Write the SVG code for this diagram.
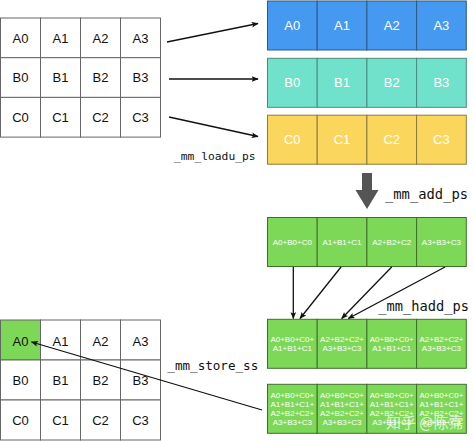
<svg xmlns="http://www.w3.org/2000/svg" width="474" height="441" viewBox="0 0 474 441">
<defs>
<marker id="ah" viewBox="0 0 10 10" refX="9" refY="5" markerWidth="7" markerHeight="7" orient="auto" markerUnits="userSpaceOnUse">
<path d="M0,1 L10,5 L0,9 L2,5 Z" fill="#111"/>
</marker>
</defs>
<style>
.g{fill:#fff;stroke:#666;stroke-width:1}
.gt{font-family:"Liberation Sans",Arial,sans-serif;font-size:13px;fill:#111;text-anchor:middle;dominant-baseline:central}
.rt{font-family:"Liberation Sans",Arial,sans-serif;font-size:13px;fill:#fff;text-anchor:middle;dominant-baseline:central}
.st{font-family:"Liberation Sans",Arial,sans-serif;font-size:8px;fill:#fff;text-anchor:middle;dominant-baseline:central}
.blue{fill:#4599F1;stroke:#2b5a86;stroke-width:1}
.teal{fill:#70E1CA;stroke:#4a8b80;stroke-width:1}
.yel{fill:#FAD75C;stroke:#8a7a3c;stroke-width:1}
.grn{fill:#7ED857;stroke:#3f6e2c;stroke-width:1}
.lbl{font-family:"DejaVu Sans Mono",monospace;fill:#111}
.c{stroke:#111;stroke-width:1.3;fill:none}
</style>

<g id="grid-top">
<rect class="g" x="0.5" y="18" width="40" height="39.7"/><rect class="g" x="40.5" y="18" width="40" height="39.7"/><rect class="g" x="80.5" y="18" width="40" height="39.7"/><rect class="g" x="120.5" y="18" width="40" height="39.7"/>
<rect class="g" x="0.5" y="57.7" width="40" height="39.7"/><rect class="g" x="40.5" y="57.7" width="40" height="39.7"/><rect class="g" x="80.5" y="57.7" width="40" height="39.7"/><rect class="g" x="120.5" y="57.7" width="40" height="39.7"/>
<rect class="g" x="0.5" y="97.4" width="40" height="39.7"/><rect class="g" x="40.5" y="97.4" width="40" height="39.7"/><rect class="g" x="80.5" y="97.4" width="40" height="39.7"/><rect class="g" x="120.5" y="97.4" width="40" height="39.7"/>
<text class="gt" x="20.5" y="38">A0</text><text class="gt" x="60.5" y="38">A1</text><text class="gt" x="100.5" y="38">A2</text><text class="gt" x="140.5" y="38">A3</text>
<text class="gt" x="20.5" y="77.7">B0</text><text class="gt" x="60.5" y="77.7">B1</text><text class="gt" x="100.5" y="77.7">B2</text><text class="gt" x="140.5" y="77.7">B3</text>
<text class="gt" x="20.5" y="117.3">C0</text><text class="gt" x="60.5" y="117.3">C1</text><text class="gt" x="100.5" y="117.3">C2</text><text class="gt" x="140.5" y="117.3">C3</text>
</g>

<g id="reg-a">
<rect class="blue" x="267.5" y="1" width="49.7" height="49"/><rect class="blue" x="317.2" y="1" width="49.7" height="49"/><rect class="blue" x="366.9" y="1" width="49.7" height="49"/><rect class="blue" x="416.6" y="1" width="49.7" height="49"/>
<text class="rt" x="292.3" y="25.5">A0</text><text class="rt" x="342" y="25.5">A1</text><text class="rt" x="391.7" y="25.5">A2</text><text class="rt" x="441.4" y="25.5">A3</text>
</g>

<g id="reg-b">
<rect class="teal" x="267.5" y="58.3" width="49.7" height="49"/><rect class="teal" x="317.2" y="58.3" width="49.7" height="49"/><rect class="teal" x="366.9" y="58.3" width="49.7" height="49"/><rect class="teal" x="416.6" y="58.3" width="49.7" height="49"/>
<text class="rt" x="292.3" y="82.8">B0</text><text class="rt" x="342" y="82.8">B1</text><text class="rt" x="391.7" y="82.8">B2</text><text class="rt" x="441.4" y="82.8">B3</text>
</g>

<g id="reg-c">
<rect class="yel" x="267.5" y="115.2" width="49.7" height="49"/><rect class="yel" x="317.2" y="115.2" width="49.7" height="49"/><rect class="yel" x="366.9" y="115.2" width="49.7" height="49"/><rect class="yel" x="416.6" y="115.2" width="49.7" height="49"/>
<text class="rt" x="292.3" y="139.7">C0</text><text class="rt" x="342" y="139.7">C1</text><text class="rt" x="391.7" y="139.7">C2</text><text class="rt" x="441.4" y="139.7">C3</text>
</g>

<g id="reg-sum">
<rect class="grn" x="267.5" y="217.5" width="49.7" height="49"/><rect class="grn" x="317.2" y="217.5" width="49.7" height="49"/><rect class="grn" x="366.9" y="217.5" width="49.7" height="49"/><rect class="grn" x="416.6" y="217.5" width="49.7" height="49"/>
<text class="st" x="292.3" y="242">A0+B0+C0</text><text class="st" x="342" y="242">A1+B1+C1</text><text class="st" x="391.7" y="242">A2+B2+C2</text><text class="st" x="441.4" y="242">A3+B3+C3</text>
</g>

<g id="reg-hadd">
<rect class="grn" x="267.5" y="319.3" width="49.7" height="49"/><rect class="grn" x="317.2" y="319.3" width="49.7" height="49"/><rect class="grn" x="366.9" y="319.3" width="49.7" height="49"/><rect class="grn" x="416.6" y="319.3" width="49.7" height="49"/>
<text class="st" x="292.3" y="339.5">A0+B0+C0+</text><text class="st" x="292.3" y="348.5">A1+B1+C1</text>
<text class="st" x="342" y="339.5">A2+B2+C2+</text><text class="st" x="342" y="348.5">A3+B3+C3</text>
<text class="st" x="391.7" y="339.5">A0+B0+C0+</text><text class="st" x="391.7" y="348.5">A1+B1+C1</text>
<text class="st" x="441.4" y="339.5">A2+B2+C2+</text><text class="st" x="441.4" y="348.5">A3+B3+C3</text>
</g>

<g id="reg-total">
<rect class="grn" x="267.5" y="384.3" width="49.7" height="49"/><rect class="grn" x="317.2" y="384.3" width="49.7" height="49"/><rect class="grn" x="366.9" y="384.3" width="49.7" height="49"/><rect class="grn" x="416.6" y="384.3" width="49.7" height="49"/>
<text class="st" x="292.3" y="395.5">A0+B0+C0+</text><text class="st" x="292.3" y="404.5">A1+B1+C1+</text><text class="st" x="292.3" y="413.5">A2+B2+C2+</text><text class="st" x="292.3" y="422.5">A3+B3+C3</text>
<text class="st" x="342" y="395.5">A0+B0+C0+</text><text class="st" x="342" y="404.5">A1+B1+C1+</text><text class="st" x="342" y="413.5">A2+B2+C2+</text><text class="st" x="342" y="422.5">A3+B3+C3</text>
<text class="st" x="391.7" y="395.5">A0+B0+C0+</text><text class="st" x="391.7" y="404.5">A1+B1+C1+</text><text class="st" x="391.7" y="413.5">A2+B2+C2+</text><text class="st" x="391.7" y="422.5">A3+B3+C3</text>
<text class="st" x="441.4" y="395.5">A0+B0+C0+</text><text class="st" x="441.4" y="404.5">A1+B1+C1+</text><text class="st" x="441.4" y="413.5">A2+B2+C2+</text><text class="st" x="441.4" y="422.5">A3+B3+C3</text>
</g>

<g id="grid-bottom">
<rect class="grn" x="0.5" y="320" width="40" height="40" style="stroke:#666"/><rect class="g" x="40.5" y="320" width="40" height="40"/><rect class="g" x="80.5" y="320" width="40" height="40"/><rect class="g" x="120.5" y="320" width="40" height="40"/>
<rect class="g" x="0.5" y="360" width="40" height="40"/><rect class="g" x="40.5" y="360" width="40" height="40"/><rect class="g" x="80.5" y="360" width="40" height="40"/><rect class="g" x="120.5" y="360" width="40" height="40"/>
<rect class="g" x="0.5" y="400" width="40" height="40"/><rect class="g" x="40.5" y="400" width="40" height="40"/><rect class="g" x="80.5" y="400" width="40" height="40"/><rect class="g" x="120.5" y="400" width="40" height="40"/>
<text class="gt" x="20.5" y="341">A0</text><text class="gt" x="60.5" y="341">A1</text><text class="gt" x="100.5" y="341">A2</text><text class="gt" x="140.5" y="341">A3</text>
<text class="gt" x="20.5" y="380.5">B0</text><text class="gt" x="60.5" y="380.5">B1</text><text class="gt" x="100.5" y="380.5">B2</text><text class="gt" x="140.5" y="380.5">B3</text>
<text class="gt" x="20.5" y="420">C0</text><text class="gt" x="60.5" y="420">C1</text><text class="gt" x="100.5" y="420">C2</text><text class="gt" x="140.5" y="420">C3</text>
</g>

<g id="connectors">
<line class="c" x1="167" y1="42" x2="258" y2="23.5" marker-end="url(#ah)"/>
<line class="c" x1="169" y1="79" x2="258" y2="79" marker-end="url(#ah)"/>
<line class="c" x1="169" y1="117" x2="258" y2="136.5" marker-end="url(#ah)"/>
<polygon points="362,173 372,173 372,190 378.5,190 367,209 355.5,190 362,190" fill="#555"/>
<line class="c" x1="293.3" y1="267" x2="293.3" y2="318.5" marker-end="url(#ah)"/>
<line class="c" x1="341" y1="267" x2="300" y2="318.5" marker-end="url(#ah)"/>
<line class="c" x1="391.7" y1="267" x2="341.7" y2="318.5" marker-end="url(#ah)"/>
<line class="c" x1="445" y1="267" x2="348.3" y2="318.5" marker-end="url(#ah)"/>
<line class="c" x1="262" y1="410" x2="31.5" y2="342" marker-end="url(#ah)"/>
</g>

<g id="labels">
<text class="lbl" x="174" y="160" font-size="11.3">_mm_loadu_ps</text>
<text class="lbl" x="385" y="198.5" font-size="13.8">_mm_add_ps</text>
<text class="lbl" x="378.3" y="311" font-size="13.7">_mm_hadd_ps</text>
<text class="lbl" x="167.3" y="370" font-size="12.6">_mm_store_ss</text>
</g>

<text x="386" y="427.5" font-family="'Noto Sans CJK SC',sans-serif" font-size="15" fill="#fff" fill-opacity="0.75">知乎 @陈霈</text>
</svg>
